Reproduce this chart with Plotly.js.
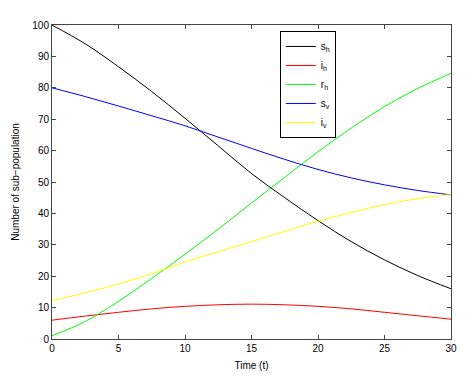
<!DOCTYPE html>
<html>
<head>
<meta charset="utf-8">
<script src="https://cdn.plot.ly/plotly-3.0.1.min.js"></script>
<style>html,body{margin:0;padding:0;background:#fff;}#chart{width:474px;height:382px;}</style>
</head>
<body>
<div id="chart"></div>
<script>
const time = [0, 2.5, 5, 7.5, 10, 12.5, 15, 17.5, 20, 22.5, 25, 27.5, 30];
const sH = [100, 94, 86.7, 78.8, 70.3, 61.5, 52.7, 45, 37.7, 31, 25.2, 20.2, 16];
const iH = [6, 7.3, 8.5, 9.6, 10.4, 10.9, 11.1, 10.9, 10.4, 9.6, 8.5, 7.4, 6.3];
const rH = [1, 5.6, 12, 19.3, 27, 35, 43.3, 51.5, 59.6, 67.2, 74, 79.8, 84.6];
const sV = [80, 77.2, 74.2, 71.1, 67.9, 64.3, 60.7, 57.2, 54, 51.3, 49.1, 47.3, 45.9];
const iV = [12.2, 14.7, 17.5, 20.8, 24.5, 27.8, 31, 34.3, 37.5, 40.3, 42.8, 44.7, 46];
const names = ['s<sub>h</sub>', 'i<sub>h</sub>', 'r<sub>h</sub>', 's<sub>v</sub>', 'i<sub>v</sub>'];
const colors = ['#000000', '#ff0000', '#00ff00', '#0000ff', '#ffff00'];
const series = [sH, iH, rH, sV, iV];

const traces = series.map((ys, k) => ({
  x: time, y: ys, name: names[k], type: 'scatter', mode: 'lines',
  line: {color: colors[k], width: 1, shape: 'spline', smoothing: 1}
}));

const axisCommon = {
  showline: true, mirror: 'ticks', linecolor: '#444', linewidth: 1,
  ticks: 'inside', ticklen: 4, tickcolor: '#444', showgrid: false, zeroline: false,
  tickfont: {family: 'Liberation Sans, Arial, sans-serif', size: 10, color: '#000'}
};

const layout = {
  width: 474, height: 382,
  margin: {l: 52, r: 23, t: 25, b: 43},
  paper_bgcolor: '#fff', plot_bgcolor: '#fff',
  font: {family: 'Liberation Sans, Arial, sans-serif', size: 10, color: '#000'},
  xaxis: Object.assign({}, axisCommon, {
    range: [0, 30], tickvals: [0, 5, 10, 15, 20, 25, 30],
    title: {text: 'Time (t)', standoff: 8, font: {size: 10}}
  }),
  yaxis: Object.assign({}, axisCommon, {
    range: [0, 100], tickvals: [0, 10, 20, 30, 40, 50, 60, 70, 80, 90, 100],
    title: {text: 'Number of sub\u2212population', standoff: 10, font: {size: 10}}
  }),
  showlegend: true,
  legend: {
    x: 0.571, y: 0.981, xanchor: 'left', yanchor: 'top',
    bgcolor: '#fff', bordercolor: '#000', borderwidth: 1,
    font: {size: 10, color: '#000'}, tracegroupgap: 0, itemwidth: 30
  }
};

Plotly.newPlot('chart', traces, layout, {displayModeBar: false, staticPlot: true});
</script>
</body>
</html>
